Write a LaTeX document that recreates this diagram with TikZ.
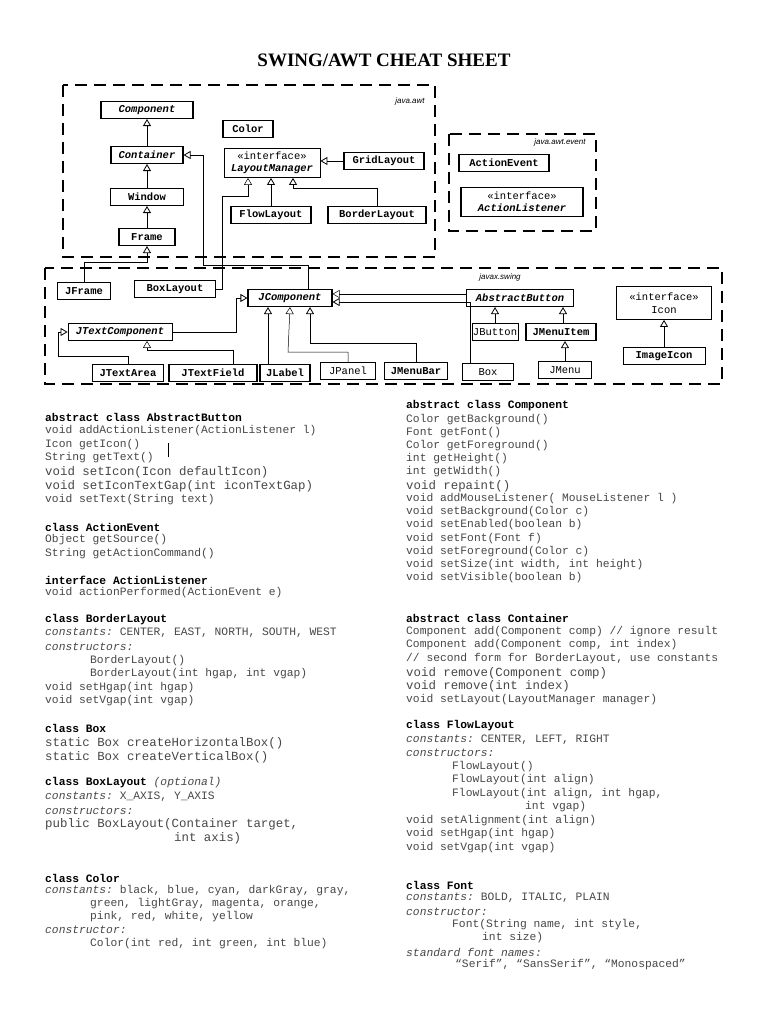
\documentclass[tikz,border=0pt]{standalone}
\usepackage{fontspec}
\setmainfont{Liberation Serif}
\setmonofont{Liberation Mono}
\newfontfamily\pkgfont{Liberation Sans}
\usetikzlibrary{arrows.meta}
\newcounter{ln}
\newcommand\tline[3]{\stepcounter{ln}\node[txt] (ln\theln) at (#1,#2) {#3};}
\newcommand\hd[3]{\stepcounter{ln}\node[txt,text=black,font=\ttfamily\bfseries\fontsize{11.3}{12}\selectfont] (ln\theln) at (#1,#2) {#3};}
\newcommand\bg[3]{\stepcounter{ln}\node[txt,font=\ttfamily\fontsize{12.4}{13}\selectfont] (ln\theln) at (#1,#2) {#3};}
\begin{document}
\begin{tikzpicture}[x=1pt,y=-1pt,
  cls/.style={draw,line width=1.1pt,font=\ttfamily\bfseries\fontsize{10.5}{12}\selectfont,minimum height=17pt,inner sep=1pt,fill=white},
  gen/.style={-{Triangle[open,width=8pt,length=7pt]},line width=0.8pt},
  pkg/.style={draw,line width=1.5pt,dash pattern=on 12pt off 7pt},
  pkgl/.style={font=\pkgfont\itshape\fontsize{8}{9}\selectfont},
  txt/.style={anchor=west,inner sep=0pt,text=black!72,font=\ttfamily\fontsize{11.3}{12}\selectfont}]
\useasboundingbox[fill=white] (0,0) rectangle (768,1024);
\node[font=\bfseries\fontsize{19}{22}\selectfont] (title) at (384,60) {SWING/AWT CHEAT SHEET};
% packages
\draw[pkg] (63,85) rectangle (435,257);
\node[pkgl] (awtl) at (410,101) {java.awt};
\draw[pkg] (449,134) rectangle (596,231);
\node[pkgl] (evl) at (560,142) {java.awt.event};
\draw[pkg] (45,268) rectangle (722,384);
\node[pkgl] (swl) at (500,277) {javax.swing};
% awt
\node[cls,minimum width=92pt] (Component) at (147,110) {\itshape Component};
\node[cls,minimum width=72pt] (Container) at (147,155) {\itshape Container};
\node[cls,minimum width=73pt] (Window) at (147,197) {Window};
\node[cls,minimum width=56pt] (Frame) at (147,237) {Frame};
\node[cls,minimum width=50pt] (Color) at (248,129) {Color};
\node[cls,minimum width=96pt,align=center,minimum height=29pt,line width=0.8pt] (LM) at (272,163) {\mdseries«interface»\\\itshape LayoutManager};
\node[cls,minimum width=80pt] (GridLayout) at (384,161) {GridLayout};
\node[cls,minimum width=80pt] (FlowLayout) at (271,215) {FlowLayout};
\node[cls,minimum width=98pt] (BorderLayout) at (377,215) {BorderLayout};
% event
\node[cls,minimum width=90pt] (ActionEvent) at (504,163) {ActionEvent};
\node[cls,minimum width=122pt,align=center,minimum height=29pt] (ActionListener) at (522,202) {\mdseries«interface»\\\itshape ActionListener};
% swing
\node[cls,minimum width=53pt] (JFrame) at (84,291) {JFrame};
\node[cls,minimum width=81pt] (BoxLayout) at (175,289) {BoxLayout};
\node[cls,minimum width=84pt] (JComponent) at (290,298) {\itshape JComponent};
\node[cls,minimum width=107pt] (AB) at (520,298) {\itshape AbstractButton};
\node[cls,minimum width=95pt,align=center,minimum height=33pt,line width=0.8pt,font=\ttfamily\fontsize{10.5}{13}\selectfont] (Icon) at (664,303) {«interface»\\Icon};
\node[cls,minimum width=104pt,line width=0.8pt] (JTC) at (120,332) {\itshape JTextComponent};
\node[cls,minimum width=30pt,line width=0.8pt] (JButton) at (495,332) {\mdseries JButton};
\node[cls,minimum width=70pt] (JMenuItem) at (561,332) {JMenuItem};
\node[cls,minimum width=82pt,line width=0.8pt] (ImageIcon) at (664,356) {ImageIcon};
\node[cls,minimum width=71pt] (JTextArea) at (128,373) {JTextArea};
\node[cls,minimum width=88pt] (JTextField) at (213,373) {JTextField};
\node[cls,minimum width=50pt] (JLabel) at (285,373) {JLabel};
\node[cls,minimum width=55pt,line width=0.8pt] (JPanel) at (348,371) {\mdseries JPanel};
\node[cls,minimum width=63pt] (JMenuBar) at (416,371) {JMenuBar};
\node[cls,minimum width=51pt,line width=0.8pt] (Box) at (488,372) {\mdseries Box};
\node[cls,minimum width=53pt,line width=0.8pt] (JMenu) at (565,370) {\mdseries JMenu};
% generalizations
\draw[gen] (Container) -- (Component);
\draw[gen] (Window) -- (Container);
\draw[gen] (Frame) -- (Window);
\draw[gen] (JFrame.north) |- (147,262) -- (Frame.south);
\draw[gen] ([xshift=18pt]JComponent.north) |- (203,265) |- (Container.east);
\draw[gen,line width=0.5pt] (BoxLayout.east) -| (222,196) -| ([xshift=-24pt]LM.south);
\draw[gen] (FlowLayout.north) -- (FlowLayout.north |- LM.south);
\draw[gen] (BorderLayout.north) |- (293,188) -- ([xshift=21pt]LM.south);
\draw[gen] (GridLayout.west) -- (GridLayout.west -| LM.east);
\draw[gen,line width=0.5pt] ([yshift=4pt]AB.west) -- ([yshift=4pt]JComponent.east);
\draw[gen] ([xshift=-18pt]Box.north) |- ([yshift=-4pt]JComponent.east);
\draw[gen] (JButton.north) -- (JButton.north |- AB.south);
\draw[gen] ([xshift=2pt]JMenuItem.north) -- ([xshift=2pt]JMenuItem.north |- AB.south);
\draw[gen] (JMenu.north) -- (JMenu.north |- JMenuItem.south);
\draw[gen] (ImageIcon) -- (Icon);
\draw[gen] (JTC.east) -| (236,298) -- (JComponent.west);
\draw[gen] (JTextArea.north) |- (58,356) |- (JTC.west);
\draw[gen,line width=0.5pt] ([xshift=20pt]JTextField.north) |- (147,350) -- ([xshift=27pt]JTC.south);
\draw[gen] ([xshift=-17pt]JLabel.north) -- ([xshift=-22pt]JComponent.south);
\draw[gen,line width=0.5pt] (JPanel.north) |- (288,352) -- (JComponent.south);
\draw[gen] (JMenuBar.north) |- (310,343) -- ([xshift=20pt]JComponent.south);
% left column
\hd{45}{417}{abstract class AbstractButton}
\tline{45}{431}{void addActionListener(ActionListener l)}
\tline{45}{445}{Icon getIcon()}
\draw[line width=1pt] (168,443) -- (168,457);
\tline{45}{458}{String getText()}
\bg{45}{472}{void setIcon(Icon defaultIcon)}
\bg{45}{486}{void setIconTextGap(int iconTextGap)}
\tline{45}{500}{void setText(String text)}
\hd{45}{527}{class ActionEvent}
\tline{45}{540}{Object getSource()}
\tline{45}{554}{String getActionCommand()}
\hd{45}{580}{interface ActionListener}
\tline{45}{593}{void actionPerformed(ActionEvent e)}
\hd{45}{620}{class BorderLayout}
\tline{45}{633}{\textit{constants:} CENTER, EAST, NORTH, SOUTH, WEST}
\tline{45}{647}{\textit{constructors:}}
\tline{90}{661}{BorderLayout()}
\tline{90}{674}{BorderLayout(int hgap, int vgap)}
\tline{45}{688}{void setHgap(int hgap)}
\tline{45}{701}{void setVgap(int vgap)}
\hd{45}{728}{class Box}
\bg{45}{743}{static Box createHorizontalBox()}
\bg{45}{757}{static Box createVerticalBox()}
\hd{45}{783}{class BoxLayout \mdseries\textit{\textcolor{black!72}{(optional)}}}
\tline{45}{797}{\textit{constants:} X\_AXIS, Y\_AXIS}
\tline{45}{811}{\textit{constructors:}}
\bg{45}{824}{public BoxLayout(Container target,}
\bg{174}{838}{int axis)}
\hd{45}{878}{class Color}
\tline{45}{891}{\textit{constants:} black, blue, cyan, darkGray, gray,}
\tline{90}{904}{green, lightGray, magenta, orange,}
\tline{90}{917}{pink, red, white, yellow}
\tline{45}{930}{\textit{constructor:}}
\tline{90}{944}{Color(int red, int green, int blue)}
% right column
\hd{406}{406}{abstract class Component}
\tline{406}{420}{Color getBackground()}
\tline{406}{433}{Font getFont()}
\tline{406}{446}{Color getForeground()}
\tline{406}{459}{int getHeight()}
\tline{406}{472}{int getWidth()}
\bg{406}{486}{void repaint()}
\tline{406}{499}{void addMouseListener( MouseListener l )}
\tline{406}{512}{void setBackground(Color c)}
\tline{406}{525}{void setEnabled(boolean b)}
\tline{406}{539}{void setFont(Font f)}
\tline{406}{552}{void setForeground(Color c)}
\tline{406}{565}{void setSize(int width, int height)}
\tline{406}{578}{void setVisible(boolean b)}
\hd{406}{618}{abstract class Container}
\tline{406}{632}{Component add(Component comp) // ignore result}
\tline{406}{645}{Component add(Component comp, int index)}
\tline{406}{659}{// second form for BorderLayout, use constants}
\bg{406}{673}{void remove(Component comp)}
\bg{406}{686}{void remove(int index)}
\tline{406}{700}{void setLayout(LayoutManager manager)}
\hd{406}{726}{class FlowLayout}
\tline{406}{740}{\textit{constants:} CENTER, LEFT, RIGHT}
\tline{406}{753}{\textit{constructors:}}
\tline{452}{767}{FlowLayout()}
\tline{452}{780}{FlowLayout(int align)}
\tline{452}{794}{FlowLayout(int align, int hgap,}
\tline{525}{807}{int vgap)}
\tline{406}{821}{void setAlignment(int align)}
\tline{406}{834}{void setHgap(int hgap)}
\tline{406}{848}{void setVgap(int vgap)}
\hd{406}{885}{class Font}
\tline{406}{898}{\textit{constants:} BOLD, ITALIC, PLAIN}
\tline{406}{912}{\textit{constructor:}}
\tline{452}{925}{Font(String name, int style,}
\tline{482}{938}{int size)}
\tline{406}{952}{\textit{standard font names:}}
\tline{455}{965}{“Serif”, “SansSerif”, “Monospaced”}
\end{tikzpicture}
\end{document}
